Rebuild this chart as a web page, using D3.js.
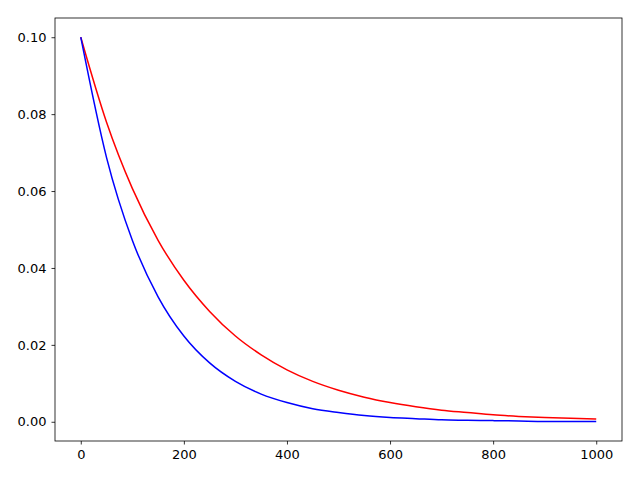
<!DOCTYPE html>
<html><head><meta charset="utf-8">
<script src="https://cdn.jsdelivr.net/npm/d3@7"></script>
<style>body{margin:0;background:#fff}</style></head>
<body><svg id="c" width="640" height="480"></svg>
<script>
const xs = [0,50,100,150,200,250,300,350,400,450,500,550,600,650,700,750,800,850,900,950,1000];
const redVals = [0.1,0.0779,0.0607,0.0472,0.0368,0.0287,0.0223,0.0174,0.0135,0.0105,0.0082,0.0064,0.0050,0.0039,0.0030,0.0024,0.0018,0.0014,0.0011,0.0009,0.0007];
const blueVals = [0.1,0.0687,0.0472,0.0325,0.0223,0.0153,0.0105,0.0072,0.0050,0.0034,0.0024,0.0016,0.0011,0.0008,0.0005,0.0004,0.0003,0.0002,0.0001,0.0001,0.0001];
const xTicks = [0,200,400,600,800,1000];
const yTicks = [0,0.02,0.04,0.06,0.08,0.10];

const svg = d3.select('#c');
const L=55,R=622,T=18,B=441;
const x = d3.scaleLinear().domain([-50,1050]).range([L,R]);
const y = d3.scaleLinear().domain([-0.005,0.105]).range([B,T]);
const font = 'DejaVu Sans, sans-serif';
const gx = svg.append('g').attr('transform',`translate(0,${B})`)
  .call(d3.axisBottom(x).tickValues(xTicks).tickFormat(d3.format('d')).tickSizeOuter(0).tickSize(3.5).tickPadding(5));
const gy = svg.append('g').attr('transform',`translate(${L},0)`)
  .call(d3.axisLeft(y).tickValues(yTicks).tickFormat(d3.format('.2f')).tickSizeOuter(0).tickSize(3.5).tickPadding(5));
[gx,gy].forEach(g=>{g.select('.domain').remove();g.selectAll('text').attr('font-family',font).attr('font-size',13).attr('fill','#000');g.selectAll('line').attr('stroke','#000').attr('stroke-width',0.8);});
svg.append('rect').attr('x',L).attr('y',T).attr('width',R-L).attr('height',B-T).attr('fill','none').attr('stroke','#000').attr('stroke-width',0.8);
const line = vals => d3.line().x((d,i)=>x(xs[i])).y(d=>y(d)).curve(d3.curveMonotoneX)(vals);
svg.append('path').attr('d',line(redVals)).attr('fill','none').attr('stroke','red').attr('stroke-width',1.5);
svg.append('path').attr('d',line(blueVals)).attr('fill','none').attr('stroke','blue').attr('stroke-width',1.5);
</script></body></html>
